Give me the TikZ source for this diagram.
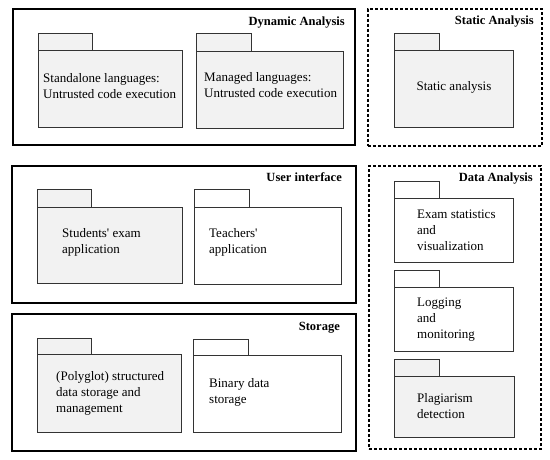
\documentclass[tikz,border=0pt]{standalone}
\usepackage{fontspec}
\setmainfont{Liberation Serif}
\definecolor{pkgfill}{HTML}{F2F2F2}
\definecolor{linecol}{HTML}{333333}
\tikzset{
  group/.style={draw=black, line width=2pt, inner sep=0pt, anchor=north west},
  dgroup/.style={draw=black, line width=1.8pt, dash pattern=on 3pt off 2pt, inner sep=0pt, anchor=north west},
  pkgbody/.style={draw=linecol, line width=1pt, inner sep=0pt},
  pkgline/.style={draw=linecol, line width=1pt},
  grouptitle/.style={font=\bfseries\fontsize{12.5}{15}\selectfont, inner sep=0pt, anchor=base east},
  lbl/.style={font=\fontsize{13}{16}\selectfont, inner sep=0pt, align=left, anchor=west},
}
\newcommand\umlpkg[8]{%
  \node[pkgbody, fill=#8, minimum width=#4pt, minimum height=#5pt, anchor=north west] (#1) at (#2,#3) {};
  \draw[pkgline, fill=#8] (#1.north west) rectangle ++(#6,-#7);
}
\begin{document}
\begin{tikzpicture}[x=1pt,y=-1pt]
\useasboundingbox (0,0) rectangle (550,459);
\fill[white] (0,0) rectangle (550,459);
% groups
\node[group, minimum width=342pt, minimum height=136pt] (dyn) at (12,8) {};
\node[dgroup, minimum width=174pt, minimum height=137pt] (stat) at (367,8) {};
\node[group, minimum width=344pt, minimum height=137pt] (ui) at (11,165) {};
\node[group, minimum width=344pt, minimum height=137pt] (stor) at (11,313) {};
\node[dgroup, minimum width=172pt, minimum height=283pt] (data) at (368,165) {};
% titles
\node[grouptitle] (dynt) at (345,25) {Dynamic Analysis};
\node[grouptitle] (statt) at (534,24) {Static Analysis};
\node[grouptitle] (uit) at (342,181) {User interface};
\node[grouptitle] (stort) at (340,330) {Storage};
\node[grouptitle] (datat) at (533,181) {Data Analysis};
% packages
\umlpkg{sa}{38}{50}{144}{77}{54}{17}{pkgfill}
\umlpkg{ma}{196}{51}{147}{77}{55}{18}{pkgfill}
\umlpkg{st}{394}{50}{119}{77}{45}{17}{pkgfill}
\umlpkg{se}{37}{207}{145}{76}{54}{18}{pkgfill}
\umlpkg{ta}{194}{207}{147}{77}{55}{18}{white}
\umlpkg{pg}{37}{354}{144}{78}{54}{16}{pkgfill}
\umlpkg{bd}{193}{355}{148}{77}{55}{16}{white}
\umlpkg{es}{394}{198}{119}{64}{45}{17}{white}
\umlpkg{lm}{394}{287}{119}{64}{45}{17}{white}
\umlpkg{pd}{394}{376}{120}{61}{45}{17}{pkgfill}
% labels
\node[lbl] (sat) at (43,86) {Standalone languages:\\Untrusted code execution};
\node[lbl] (mat) at (204,85) {Managed languages:\\Untrusted code execution};
\node[lbl, anchor=center] (stt) at (454,87) {Static analysis};
\node[lbl] (set) at (62,242) {Students\textquotesingle\ exam\\application};
\node[lbl] (tat) at (209,242) {Teachers\textquotesingle\\application};
\node[lbl] (pgt) at (56,393) {(Polyglot) structured\\data storage and\\management};
\node[lbl] (bdt) at (209,392) {Binary data\\storage};
\node[lbl] (est) at (417,230) {Exam statistics\\and\\visualization};
\node[lbl] (lmt) at (417,320) {Logging\\and\\monitoring};
\node[lbl] (pdt) at (417,406) {Plagiarism\\detection};
\end{tikzpicture}
\end{document}
